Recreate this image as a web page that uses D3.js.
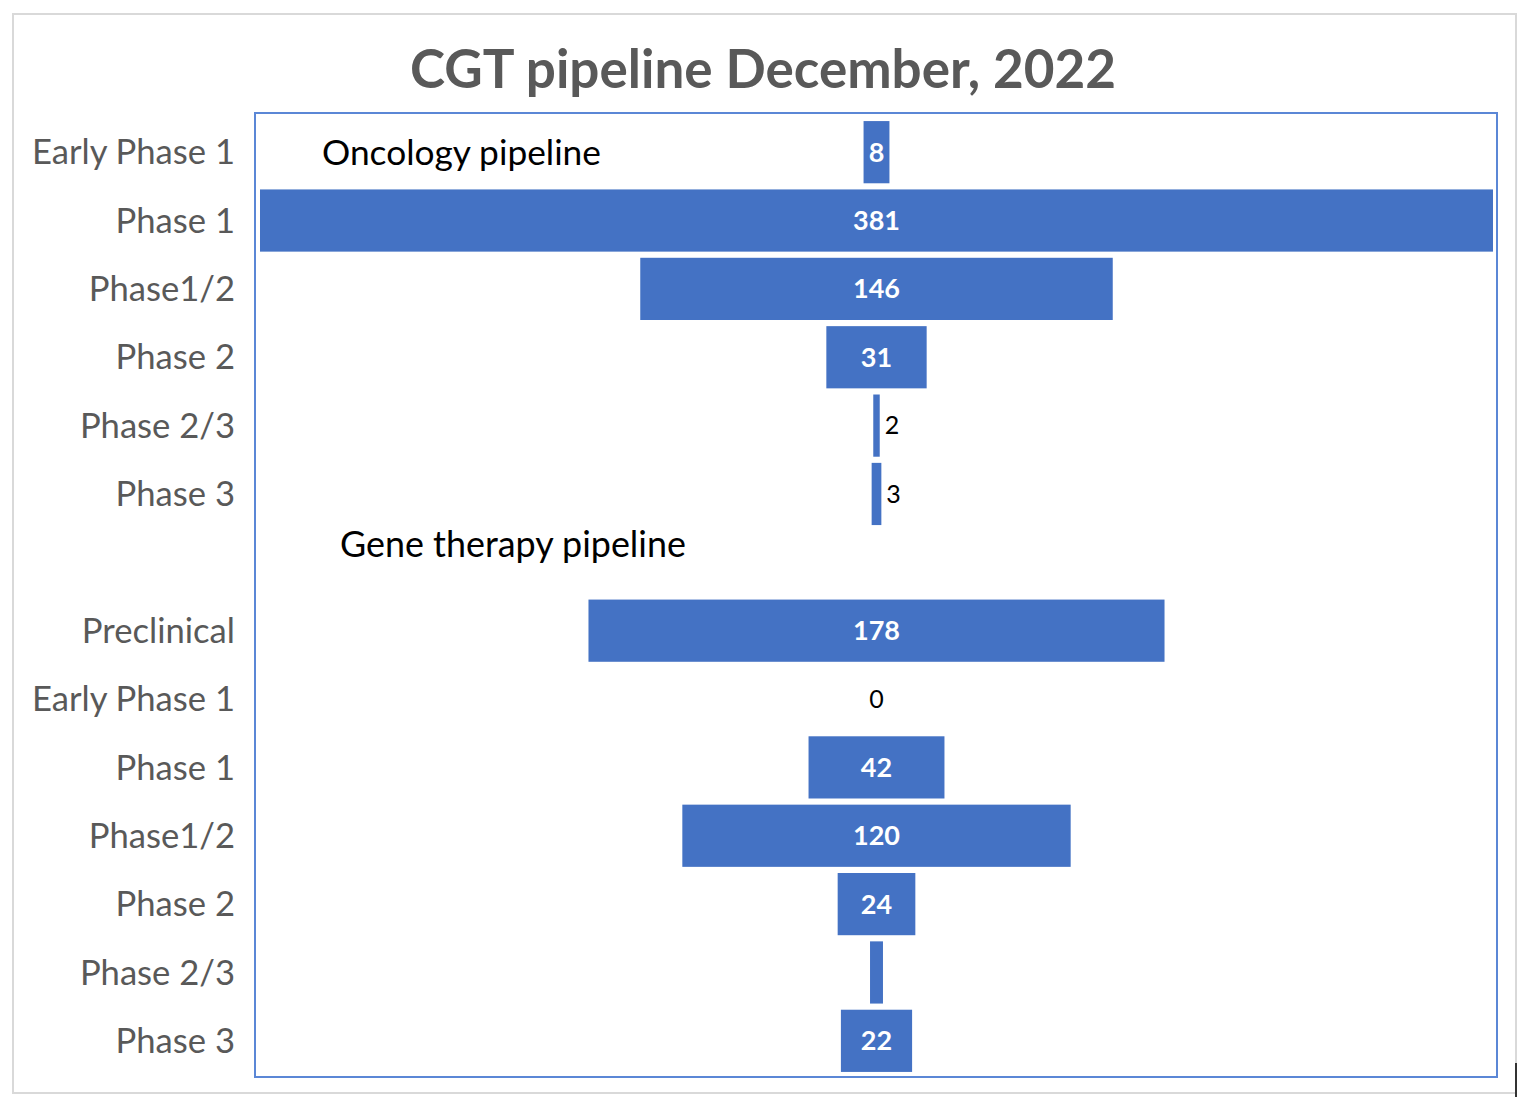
<!DOCTYPE html>
<html>
<head>
<meta charset="utf-8">
<script src="https://cdn.jsdelivr.net/npm/d3@7"></script>
<style>
  html, body { margin: 0; padding: 0; background: #ffffff; }
  svg { display: block; }
</style>
</head>
<body>
<svg id="chart" width="1536" height="1115"></svg>
<script>
// ---------------- DATA ----------------
const title = "CGT pipeline December, 2022";
const groupTitles = ["Oncology pipeline", "Gene therapy pipeline"];
const categories = ["Early Phase 1", "Phase 1", "Phase1/2", "Phase 2", "Phase 2/3", "Phase 3", "",
                    "Preclinical", "Early Phase 1", "Phase 1", "Phase1/2", "Phase 2", "Phase 2/3", "Phase 3"];
const values = [8, 381, 146, 31, 2, 3, null,
                178, 0, 42, 120, 24, 4, 22];
const showLabel = [true, true, true, true, true, true, false,
                   true, true, true, true, true, false, true];

// ---------------- LAYOUT ----------------
const svg = d3.select("#chart");
const plot = { left: 255, top: 113, right: 1497, bottom: 1077 };
const barColor = "#4472C4";
const font = "Lato, 'Open Sans', 'Liberation Sans', sans-serif";

// outer frame
svg.append("rect").attr("x", 13).attr("y", 14).attr("width", 1503).attr("height", 1079)
  .attr("fill", "#fff").attr("stroke", "#d9d9d9").attr("stroke-width", 2);
svg.append("line").attr("x1", 1516).attr("x2", 1516).attr("y1", 1063).attr("y2", 1097)
  .attr("stroke", "#333").attr("stroke-width", 2);

// plot border
svg.append("rect").attr("x", plot.left).attr("y", plot.top)
  .attr("width", plot.right - plot.left).attr("height", plot.bottom - plot.top)
  .attr("fill", "none").attr("stroke", "#5b87d6").attr("stroke-width", 2);

const idx = d3.range(categories.length);
const y = d3.scaleBand().domain(idx).range([118, 1075]).paddingInner(0.09).paddingOuter(0.045);
const xMax = d3.max(values);
const w = d3.scaleLinear().domain([0, xMax]).range([0, 1233]);
const cx = 876.5;

function fit(sel, target) {
  const len = sel.node().getComputedTextLength();
  const fs = parseFloat(sel.attr("font-size"));
  const nfs = fs * target / len;
  sel.attr("font-size", nfs.toFixed(2));
  return nfs;
}

// title
const t = svg.append("text").attr("x", 763).attr("y", 88).attr("text-anchor", "middle")
  .attr("font-family", font).attr("font-weight", "bold").attr("font-size", 48)
  .attr("fill", "#595959").text(title);
fit(t, 706);

// category labels
const catG = svg.append("g");
const cats = catG.selectAll("text").data(idx).join("text")
  .attr("x", 235).attr("y", i => y(i) + y.bandwidth() / 2)
  .attr("dy", "0.35em").attr("text-anchor", "end")
  .attr("font-family", font).attr("font-size", 32).attr("fill", "#595959")
  .text(i => categories[i]);
const catFs = fit(cats.filter((d, k) => k === 0), 203);
cats.attr("font-size", catFs.toFixed(2));

// bars
svg.append("g").selectAll("rect").data(idx.filter(i => values[i] !== null && values[i] > 0)).join("rect")
  .attr("x", i => cx - w(values[i]) / 2)
  .attr("y", i => y(i))
  .attr("width", i => w(values[i]))
  .attr("height", y.bandwidth())
  .attr("fill", barColor);

// data labels
const inside = i => w(values[i]) > 20;
svg.append("g").selectAll("text").data(idx.filter(i => values[i] !== null && showLabel[i])).join("text")
  .attr("x", i => inside(i) || values[i] === 0 ? cx : cx + w(values[i]) / 2 + 5)
  .attr("y", i => y(i) + y.bandwidth() / 2)
  .attr("dy", "0.35em")
  .attr("text-anchor", i => inside(i) || values[i] === 0 ? "middle" : "start")
  .attr("font-family", font)
  .attr("font-weight", i => inside(i) ? "bold" : "normal")
  .attr("font-size", i => inside(i) ? 27 : 25)
  .attr("fill", i => inside(i) ? "#ffffff" : "#000000")
  .text(i => values[i]);

// group titles
const g1 = svg.append("text").attr("x", 322).attr("y", y(0) + y.bandwidth() / 2).attr("dy", "0.35em")
  .attr("font-family", font).attr("font-size", 32).attr("fill", "#000").text(groupTitles[0]);
fit(g1, 279);
const g2 = svg.append("text").attr("x", 340).attr("y", 544).attr("dy", "0.35em")
  .attr("font-family", font).attr("font-size", 32).attr("fill", "#000").text(groupTitles[1]);
fit(g2, 346);
</script>
</body>
</html>
